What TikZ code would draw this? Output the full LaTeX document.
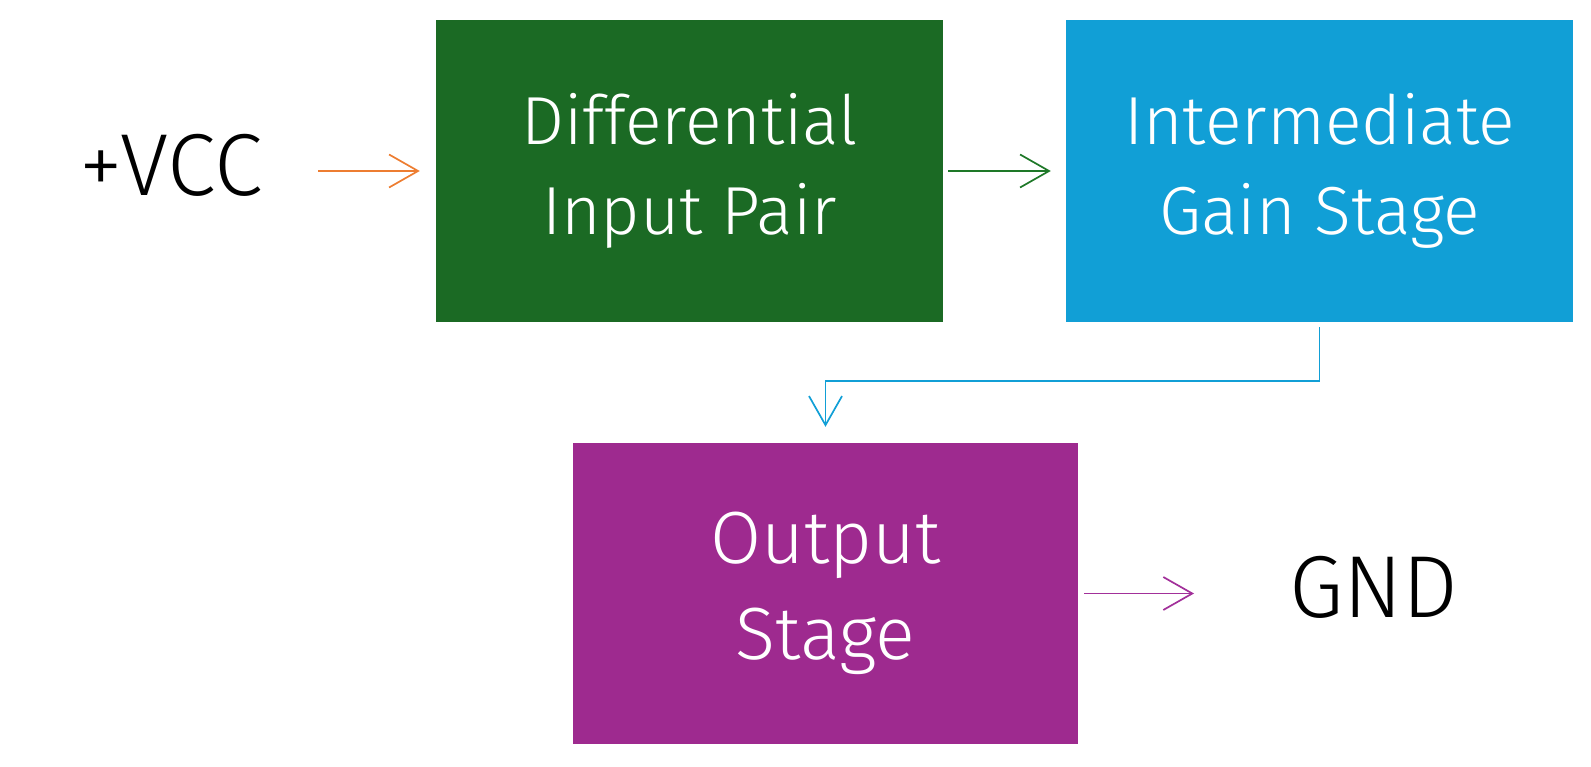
\documentclass[tikz,border=0pt]{standalone}
\usepackage{fontspec}
\setmainfont{Fira Sans Light}
\usetikzlibrary{arrows.meta}
\definecolor{boxgreen}{RGB}{27,106,36}
\definecolor{boxblue}{RGB}{17,159,214}
\definecolor{boxpurple}{RGB}{158,42,143}
\definecolor{arrorange}{RGB}{237,125,49}
\definecolor{arrgreen}{RGB}{30,120,40}
\definecolor{arrpurple}{RGB}{162,48,154}
\tikzset{
  blockbox/.style={inner sep=0pt, text=white, align=center,
    minimum width=507pt, minimum height=302pt,
    font=\fontsize{68}{90}\selectfont},
  labeltext/.style={inner sep=0pt, text=black, font=\fontsize{88}{100}\selectfont},
  conn/.style={line width=1.7pt, -{Straight Barb[length=29pt,width=33pt]}}
}
\begin{document}
\begin{tikzpicture}[x=1pt,y=-1pt]
\useasboundingbox (0,0) rectangle (1591,767);
\node[blockbox, fill=boxgreen] (diff) at (689.5,171) {Differential\\Input Pair};
\node[blockbox, fill=boxblue] (gain) at (1319.5,171) {Intermediate\\Gain Stage};
\node[blockbox, fill=boxpurple, minimum width=505pt, minimum height=301pt,
      font=\fontsize{74}{96}\selectfont] (out) at (825.5,593.5) {Output\\Stage};
\node[labeltext, anchor=east] (vcc) at (263,165) {+VCC};
\node[labeltext, anchor=west] (gnd) at (1289,587) {GND};
\draw[conn, arrorange, shorten <=55pt, shorten >=16pt] (vcc.east |- diff.west) -- (diff.west);
\draw[conn, arrgreen, shorten <=5pt, shorten >=15pt] (diff.east) -- (gain.west);
\draw[conn, boxblue, shorten <=5pt, shorten >=16pt] (gain.south) -- ++(0,59) -| (out.north);
\draw[conn, arrpurple, shorten <=6pt, shorten >=95pt] (out.east) -- (out.east -| gnd.west);
\end{tikzpicture}
\end{document}
